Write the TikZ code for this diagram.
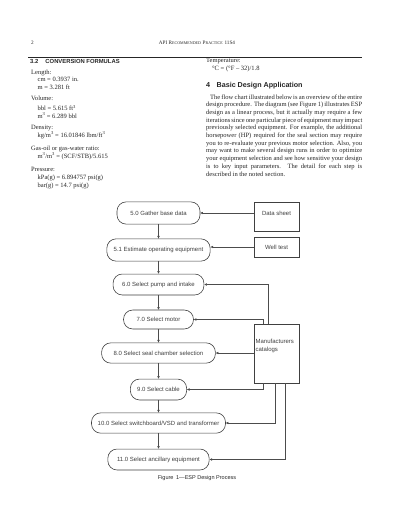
\documentclass[tikz,border=0pt]{standalone}
\usepackage{fontspec}
\setmainfont{Liberation Serif}
\setsansfont{Liberation Sans}
\usetikzlibrary{arrows.meta}
\newcommand\bigsc[1]{{\fontsize{8}{9}\selectfont #1}}
\newcommand\smsc[1]{{\fontsize{6.2}{7}\selectfont #1}}
\begin{document}
\begin{tikzpicture}[x=1.53bp,y=-1.53bp,
  flowfont/.style={font=\sffamily\fontsize{9.2}{11}\selectfont, text=black!75},
  proc/.style={draw=black!75, line width=0.9bp, rounded corners=14bp, inner sep=0pt, flowfont},
  srcbox/.style={draw=black!75, line width=0.9bp, inner sep=0pt, flowfont},
  srctext/.style={inner sep=0pt, flowfont},
  arr/.style={draw=black!70, line width=0.75bp, -{Triangle[length=4bp,width=3.4bp]}},
  body/.style={anchor=base west, inner sep=0pt, font=\fontsize{10}{11.8}\selectfont, text=black!85},
  head/.style={anchor=base west, inner sep=0pt, text=black!85}]
\useasboundingbox[fill=white] (0,0) rectangle (400,516);

% page header
\node[head, font=\fontsize{8}{9}\selectfont] (pno) at (31,44) {2};
\node[anchor=base, inner sep=0pt, text=black!85] (runhead) at (197,44)
  {\bigsc{API R}\smsc{ECOMMENDED} \bigsc{P}\smsc{RACTICE} \bigsc{11S4}};
\draw[line width=0.9bp, black!85] (28,57) -- (362,57);

% left column
\node[head, font=\sffamily\bfseries\fontsize{9}{11}\selectfont] (h32) at (30,63.5)
  {3.2\hspace{11bp}CONVERSION FORMULAS};
\node[body] (l1) at (31,74) {Length:};
\node[body] (l2) at (37.5,81.5) {cm = 0.3937 in.};
\node[body] (l3) at (37.5,89) {m = 3.281 ft};
\node[body] (l4) at (31,100.5) {Volume:};
\node[body] (l5) at (37.5,110.5) {bbl = 5.615 ft\textsuperscript{3}};
\node[body] (l6) at (37.5,118) {m\textsuperscript{3} = 6.289 bbl};
\node[body] (l7) at (31,129) {Density:};
\node[body] (l8) at (37.5,137) {kg/m\textsuperscript{3} = 16.01846 lbm/ft\textsuperscript{3}};
\node[body] (l9) at (31,150) {Gas-oil or gas-water ratio:};
\node[body] (l10) at (37.5,158) {m\textsuperscript{3}/m\textsuperscript{3} = (SCF/STB)/5.615};
\node[body] (l11) at (31,171.5) {Pressure:};
\node[body] (l12) at (37.5,179) {kPa(g) = 6.894757 psi(g)};
\node[body] (l13) at (37.5,187) {bar(g) = 14.7 psi(g)};

% right column
\node[body] (r1) at (206,62) {Temperature:};
\node[body] (r2) at (212,70) {°C = (°F – 32)/1.8};
\node[head, font=\sffamily\bfseries\fontsize{11}{13}\selectfont] (h4) at (206,87.5)
  {4\hspace{10bp}Basic Design Application};
\node[body] (p1) at (210,99) {\makebox[232.6bp][s]{The flow chart illustrated below is an overview of the entire}};
\node[body] (p2) at (206,106.7) {\makebox[238.7bp][s]{design procedure. The diagram (see Figure 1) illustrates ESP}};
\node[body] (p3) at (206,114.4) {\makebox[238.7bp][s]{design as a linear process, but it actually may require a few}};
\node[body] (p4) at (206,122.1) {\makebox[238.7bp][s]{iterations since one particular piece of equipment may impact}};
\node[body] (p5) at (206,129.8) {\makebox[238.7bp][s]{previously selected equipment. For example, the additional}};
\node[body] (p6) at (206,137.5) {\makebox[238.7bp][s]{horsepower (HP) required for the seal section may require}};
\node[body] (p7) at (206,145.2) {\makebox[238.7bp][s]{you to re-evaluate your previous motor selection. Also, you}};
\node[body] (p8) at (206,152.9) {\makebox[238.7bp][s]{may want to make several design runs in order to optimize}};
\node[body] (p9) at (206,160.6) {\makebox[238.7bp][s]{your equipment selection and see how sensitive your design}};
\node[body] (p10) at (206,168.3) {\makebox[238.7bp][s]{is to key input parameters. The detail for each step is}};
\node[body] (p11) at (206,176) {described in the noted section.};

% flow chart: process steps
\node[proc, minimum width=127bp, minimum height=34bp] (g50) at (158.5,213) {5.0 Gather base data};
\node[proc, minimum width=158bp, minimum height=34bp] (g51) at (158.5,250) {5.1 Estimate operating equipment};
\node[proc, minimum width=139bp, minimum height=32bp] (g60) at (158.5,284.5) {6.0 Select pump and intake};
\node[proc, minimum width=107bp, minimum height=29bp] (g70) at (158.5,319.5) {7.0 Select motor};
\node[proc, minimum width=174bp, minimum height=31bp] (g80) at (158.5,353) {8.0 Select seal chamber selection};
\node[proc, minimum width=86bp, minimum height=32bp] (g90) at (158.5,389.5) {9.0 Select cable};
\node[proc, minimum width=205bp, minimum height=31bp] (g100) at (158.5,423) {10.0 Select switchboard/VSD and transformer};
\node[proc, minimum width=155bp, minimum height=32bp] (g110) at (158.5,459.5) {11.0 Select ancillary equipment};

% flow chart: inputs
\node[srcbox, minimum width=69bp, minimum height=44bp] (ds) at (276.5,216.5) {};
\node[srctext] (dst) at (276.5,213) {Data sheet};
\node[srcbox, minimum width=69bp, minimum height=31bp] (wt) at (276.5,247) {Well test};
\node[srcbox, minimum width=69bp, minimum height=90bp] (mc) at (276.5,353.5) {};
\node[srctext, anchor=west, align=left] (mct) at (255.5,346) {Manufacturers\\catalogs};

% connectors
\draw[arr] (g50) -- (g51);
\draw[arr] (g51) -- (g60);
\draw[arr] (g60) -- (g70);
\draw[arr] (g70) -- (g80);
\draw[arr] (g80) -- (g90);
\draw[arr] (g90) -- (g100);
\draw[arr] (g100) -- (g110);
\draw[arr] (ds.west |- g50) -- (g50);
\draw[arr] (wt.west) -- (g51.east |- wt.west);
\draw[arr] ([xshift=-13bp]mc.north) |- (g60);
\draw[arr] ([xshift=-20.7bp]mc.north) |- (g70);
\draw[arr] (mc.west |- g80) -- (g80);
\draw[arr] ([xshift=-20.7bp]mc.south) |- (g90);
\draw[arr] ([xshift=-2.3bp]mc.south) |- (g100);
\draw[arr] ([xshift=13bp]mc.south) |- (g110);

% caption
\node[anchor=base, inner sep=0pt, font=\sffamily\fontsize{8.5}{10}\selectfont, text=black!85] (cap) at (197,479.5)
  {Figure\hspace{4bp}1---ESP Design Process};
\end{tikzpicture}
\end{document}
